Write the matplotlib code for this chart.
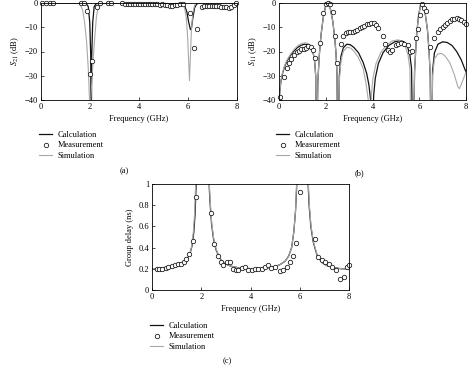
import matplotlib
matplotlib.use("Agg")
import matplotlib.pyplot as plt

plt.rcParams['font.family'] = ['Liberation Serif', 'DejaVu Serif']
plt.rcParams['mathtext.fontset'] = 'stix'
plt.rcParams['font.size'] = 6

# ---- (a) S21 ----
a_calc_f = [0.0, 1.7, 1.85, 1.93, 1.99, 2.03, 2.05, 2.07, 2.11, 2.17, 2.25, 2.4, 5.7, 5.85, 5.95, 6.03,
            6.1, 6.14, 6.2, 6.27, 6.35, 6.45, 8.0]
a_calc_db = [0.0, 0.0, -0.3, -1.5, -8, -22, -60, -22, -8, -1.5, -0.3, 0.0, 0.0, -0.8, -3.5, -8,
             -11, -10.5, -6, -2, -0.5, 0.0, 0.0]
a_sim_f = [0.0, 1.5, 1.6, 1.7, 1.78, 1.86, 1.93, 1.98, 2.0, 2.03, 2.1, 2.18, 2.26, 2.34, 2.45, 5.75, 5.85,
           5.93, 5.99, 6.03, 6.06, 6.09, 6.14, 6.2, 6.27, 6.35, 8.0]
a_sim_db = [0.0, 0.0, -0.5, -3, -8, -16, -27, -40, -60, -40, -28, -16, -6, -1, 0.0, 0.0, -1.5,
            -6, -15, -25, -32, -24, -11, -4, -1, 0.0, 0.0]
a_meas_f = [0.05, 0.2, 0.35, 0.5, 1.63, 1.76, 1.86, 1.99, 2.09, 2.3, 2.42, 2.75, 2.87, 3.3, 3.42, 3.55,
            3.65, 3.75, 3.85, 3.95, 4.05, 4.15, 4.25, 4.35, 4.45, 4.55, 4.65, 4.75, 4.85, 4.95, 5.05, 5.15,
            5.25, 5.35, 5.45, 5.55, 5.68, 5.8, 6.08, 6.24, 6.36, 6.56, 6.66, 6.76, 6.86, 6.96, 7.06, 7.16,
            7.26, 7.36, 7.46, 7.56, 7.66, 7.76, 7.86, 7.96]
a_meas_db = [0.0, 0.0, 0.0, 0.0, 0.0, 0.0, -3.3, -29.3, -24, -1.8, 0.0, 0.0, 0.0, -0.2, -0.3, -0.3,
             -0.4, -0.5, -0.4, -0.5, -0.4, -0.6, -0.5, -0.4, -0.5, -0.5, -0.6, -0.6, -0.7, -0.6, -0.8, -1.0,
             -1.1, -1.2, -1.0, -0.8, -0.5, -0.4, -4.2, -18.7, -10.9, -1.5, -1.3, -1.2, -1.2, -1.2, -1.3, -1.3,
             -1.4, -1.5, -1.6, -1.8, -2.2, -1.8, -1.0, -0.2]

# ---- (b) S11 ----
b_calc_f = [0.0, 0.03, 0.08, 0.15, 0.25, 0.35, 0.5, 0.65, 0.8, 0.95, 1.1, 1.25, 1.35, 1.45, 1.52, 1.57, 1.6,
            1.62, 1.66, 1.72, 1.8, 1.9, 2.0, 2.05, 2.1, 2.2, 2.3, 2.38, 2.44, 2.48, 2.51,
            2.54, 2.58, 2.65, 2.75, 2.9, 3.05, 3.2, 3.4, 3.6, 3.75, 3.85, 3.92, 3.96,
            4.0, 4.05, 4.12, 4.25, 4.45, 4.7, 4.95, 5.2, 5.35, 5.5, 5.6, 5.67, 5.72,
            5.75, 5.8, 5.88, 5.96, 6.05, 6.1, 6.15, 6.25, 6.35, 6.42, 6.47, 6.5,
            6.53, 6.57, 6.65, 6.8, 7.0, 7.2, 7.4, 7.6, 7.8, 8.0]
b_calc_db = [-42, -37, -32.5, -29, -26, -23.8, -21.5, -19.7, -18.3, -17.4, -17, -17.3, -18.2, -20.2, -23.5, -30, -60,
             -60, -33, -22, -13, -5.5, -1, -0.2, -0.3, -2.5, -7.5, -14, -21, -29, -60,
             -60, -30, -22, -18.5, -17, -17.2, -18.3, -20.5, -24.5, -29, -34, -40, -60,
             -60, -38, -31, -25, -20.5, -17.5, -16, -15.5, -16, -18, -21.5, -27, -60,
             -60, -28, -14, -6, -1, -0.2, -0.5, -4, -11, -20, -30, -60,
             -60, -28, -20.5, -17, -16, -16.3, -17.5, -20, -23.5, -28.5]
b_sim_f = [0.0, 0.03, 0.08, 0.15, 0.25, 0.35, 0.5, 0.65, 0.8, 0.95, 1.1, 1.25, 1.35, 1.45, 1.52, 1.57, 1.6,
           1.62, 1.66, 1.72, 1.8, 1.9, 2.0, 2.05, 2.1, 2.2, 2.3, 2.38, 2.44, 2.48, 2.51,
           2.54, 2.58, 2.65, 2.75, 2.9, 3.05, 3.2, 3.4, 3.6, 3.72, 3.82, 3.87,
           3.9, 3.95, 4.02, 4.15, 4.35, 4.6, 4.85, 5.1, 5.25, 5.4, 5.52, 5.6, 5.65,
           5.75, 5.8, 5.88, 5.96, 6.05, 6.1, 6.15, 6.25, 6.35, 6.42, 6.47, 6.5,
           6.53, 6.57, 6.65, 6.8, 6.95, 7.1, 7.3, 7.5, 7.65, 7.72, 7.8, 7.9, 8.0]
b_sim_db = [-42, -37, -32.3, -28.7, -25.6, -23.4, -21, -19.1, -17.6, -16.8, -16.4, -16.7, -17.7, -20, -23.5, -30, -60,
            -60, -33, -22, -13, -5.5, -1, -0.2, -0.3, -2.5, -7.5, -14, -21, -29, -60,
            -60, -32, -24, -20, -18.3, -18.5, -19.8, -22.5, -27, -33, -40, -60,
            -60, -38, -31, -25, -20.5, -17.3, -15.6, -15.2, -15.8, -17.8, -21.5, -27, -60,
            -60, -28, -14, -6, -1, -0.2, -0.5, -4, -11, -20, -30, -60,
            -60, -30, -23, -21, -20.8, -21.8, -24.5, -29.5, -34.5, -35.3, -33.5, -31, -28.5]
b_meas_f = [0.04, 0.21, 0.33, 0.43, 0.53, 0.63, 0.75, 0.85, 0.95, 1.05, 1.15, 1.25, 1.35, 1.45, 1.55,
            1.75, 1.9, 2.0, 2.1, 2.2, 2.3, 2.4, 2.5, 2.65, 2.75, 2.85, 2.95, 3.05, 3.15, 3.25, 3.35, 3.45,
            3.55, 3.65, 3.75, 3.85, 3.95, 4.05, 4.15, 4.25, 4.45, 4.55, 4.65, 4.75, 4.85, 5.0, 5.1, 5.2,
            5.35, 5.5, 5.6, 5.7, 5.85, 5.95, 6.05, 6.1, 6.2, 6.3, 6.45, 6.65, 6.8, 6.9, 7.0, 7.1, 7.2,
            7.3, 7.4, 7.5, 7.6, 7.7, 7.8, 7.9, 8.0]
b_meas_db = [-38.9, -30.4, -27, -24.7, -22.9, -21.5, -20.2, -19.6, -19.1, -18.8, -18.6, -17.6, -18, -19.5, -22.5,
             -16.5, -4.3, -0.5, 0.0, -0.6, -3.7, -13.7, -24.7, -17, -13.8, -12.2, -11.8, -12, -12, -11.7, -11, -10.5,
             -9.8, -9.3, -8.8, -8.5, -8.2, -8.4, -8.9, -10.2, -13.7, -17, -19.2, -20, -19.3, -17.5, -17, -16.5,
             -17, -17.5, -20, -19.8, -14.5, -10.7, -5, -0.5, -2, -3.2, -18.2, -14.3, -11.8, -10.8, -10, -9.2, -8.2,
             -7.3, -6.8, -6.5, -6.3, -6.5, -7, -7.7, -8.6]

# ---- (c) group delay ----
c_calc_f = [0.0, 0.3, 0.6, 0.9, 1.1, 1.3, 1.45, 1.55, 1.63, 1.7, 1.75, 1.8, 2.05, 2.3, 2.35, 2.42, 2.5, 2.6,
            2.75, 2.95, 3.2, 3.5, 3.8, 4.1, 4.4, 4.7, 5.0, 5.2, 5.4, 5.55, 5.67, 5.76, 5.83, 5.88, 6.1, 6.33,
            6.38, 6.45, 6.55, 6.7, 6.9, 7.1, 7.4, 7.7, 8.0]
c_calc_v = [0.2, 0.2, 0.21, 0.22, 0.235, 0.26, 0.3, 0.35, 0.42, 0.55, 0.72, 1.05, 3.0, 1.1, 0.85, 0.62, 0.48, 0.38,
            0.3, 0.25, 0.225, 0.21, 0.205, 0.2, 0.205, 0.21, 0.22, 0.24, 0.27, 0.32, 0.4, 0.55, 0.75, 1.0, 3.0, 1.05,
            0.8, 0.6, 0.45, 0.33, 0.26, 0.23, 0.21, 0.2, 0.2]
c_sim_f = [0.0, 0.3, 0.6, 0.9, 1.1, 1.3, 1.45, 1.55, 1.62, 1.68, 1.73, 1.78, 2.05, 2.31, 2.36, 2.43, 2.51, 2.61,
           2.76, 2.96, 3.2, 3.5, 3.8, 4.1, 4.4, 4.7, 5.0, 5.2, 5.4, 5.55, 5.67, 5.76, 5.83, 5.87, 6.1, 6.34,
           6.39, 6.46, 6.56, 6.71, 6.91, 7.1, 7.4, 7.7, 8.0]
c_sim_v = [0.2, 0.2, 0.21, 0.22, 0.235, 0.26, 0.3, 0.35, 0.42, 0.55, 0.72, 1.05, 3.0, 1.1, 0.85, 0.62, 0.48, 0.38,
           0.3, 0.25, 0.225, 0.21, 0.205, 0.2, 0.205, 0.21, 0.22, 0.24, 0.27, 0.32, 0.4, 0.55, 0.75, 1.0, 3.0, 1.05,
           0.8, 0.6, 0.45, 0.33, 0.26, 0.23, 0.21, 0.2, 0.2]
c_meas_f = [0.2, 0.3, 0.42, 0.55, 0.67, 0.8, 0.92, 1.05, 1.17, 1.28, 1.39, 1.52, 1.65, 1.77,
            2.38, 2.53, 2.67, 2.79, 2.9, 3.04, 3.15, 3.28, 3.42, 3.51, 3.65, 3.78, 3.89, 4.05, 4.19, 4.32,
            4.46, 4.59, 4.7, 4.83, 5.0, 5.2, 5.34, 5.47, 5.61, 5.74, 5.85, 5.99,
            6.63, 6.76, 6.9, 7.03, 7.17, 7.3, 7.48, 7.64, 7.78, 7.91, 8.02]
c_meas_v = [0.2, 0.2, 0.2, 0.21, 0.22, 0.228, 0.234, 0.243, 0.25, 0.263, 0.288, 0.34, 0.46, 0.875,
            0.726, 0.43, 0.32, 0.26, 0.24, 0.26, 0.26, 0.2, 0.19, 0.19, 0.21, 0.22, 0.19, 0.19, 0.195, 0.195,
            0.2, 0.22, 0.235, 0.21, 0.22, 0.18, 0.19, 0.22, 0.26, 0.32, 0.44, 0.92,
            0.48, 0.31, 0.28, 0.26, 0.25, 0.22, 0.19, 0.1, 0.125, 0.22, 0.235]

labels = ["Calculation", "Measurement", "Simulation"]
calc_col = "#111111"
sim_col = "#a8a8a8"

fig = plt.figure(figsize=(4.74, 3.77), dpi=100)
W, H = 474.0, 377.0


def make_axes(l, t, r, b):
    return fig.add_axes([l / W, 1 - b / H, (r - l) / W, (b - t) / H])


def style(ax):
    for sp in ax.spines.values():
        sp.set_linewidth(0.6)
    ax.tick_params(direction="in", length=2, width=0.5, labelsize=6, pad=2)
    ax.set_xlim(0, 8)
    ax.set_xticks([0, 2, 4, 6, 8])
    ax.set_xlabel("Frequency (GHz)", fontsize=6, labelpad=3)


def draw(ax, cf, cv, sf, sv, mf, mv):
    h1, = ax.plot(cf, cv, color=calc_col, lw=0.9)
    h3, = ax.plot(sf, sv, color=sim_col, lw=0.8)
    h2, = ax.plot(mf, mv, ls="none", marker="o", ms=3.2, mfc="white", mec="#111111", mew=0.55, clip_on=False)
    return [h1, h2, h3]


def add_legend(ax, handles, x, y):
    ax.legend(handles, labels, loc="upper left", bbox_to_anchor=(x / W, 1 - y / H),
              bbox_transform=fig.transFigure, frameon=False, fontsize=6, handlelength=1.6,
              handletextpad=0.6, labelspacing=0.3, borderpad=0, borderaxespad=0)


ax_a = make_axes(41, 3, 237, 100)
style(ax_a)
ha = draw(ax_a, a_calc_f, a_calc_db, a_sim_f, a_sim_db, a_meas_f, a_meas_db)
ax_a.set_ylim(-40, 0)
ax_a.set_yticks([0, -10, -20, -30, -40])
ax_a.set_ylabel("$S_{21}$ (dB)", fontsize=6, labelpad=3)
add_legend(ax_a, ha, 39, 131)
fig.text(124 / W, 1 - 171 / H, "(a)", ha="center", va="center", fontsize=6)

ax_b = make_axes(279, 3, 466, 100)
style(ax_b)
hb = draw(ax_b, b_calc_f, b_calc_db, b_sim_f, b_sim_db, b_meas_f, b_meas_db)
ax_b.set_ylim(-40, 0)
ax_b.set_yticks([0, -10, -20, -30, -40])
ax_b.set_ylabel("$S_{11}$ (dB)", fontsize=6, labelpad=3)
add_legend(ax_b, hb, 276, 131)
fig.text(359 / W, 1 - 173 / H, "(b)", ha="center", va="center", fontsize=6)

ax_c = make_axes(152, 184, 349, 290)
style(ax_c)
hc = draw(ax_c, c_calc_f, c_calc_v, c_sim_f, c_sim_v, c_meas_f, c_meas_v)
ax_c.set_ylim(0, 1)
ax_c.set_yticks([0, 0.2, 0.4, 0.6, 0.8, 1])
ax_c.set_yticklabels(["0", "0.2", "0.4", "0.6", "0.8", "1"])
ax_c.set_ylabel("Group delay (ns)", fontsize=6, labelpad=3)
add_legend(ax_c, hc, 150, 322)
fig.text(227 / W, 1 - 361 / H, "(c)", ha="center", va="center", fontsize=6)

fig.savefig("out.png", dpi=100)
